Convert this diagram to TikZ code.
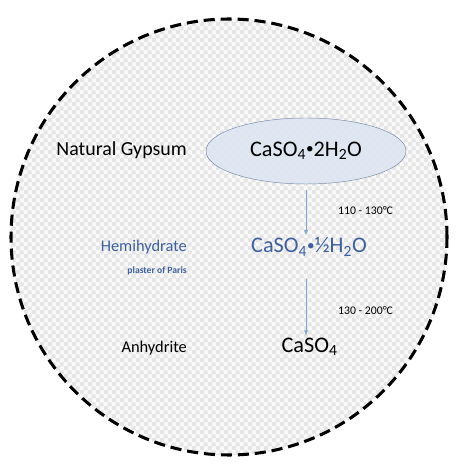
\documentclass[tikz,border=0pt]{standalone}
\usepackage{fontspec}
\setmainfont{Carlito}
\usetikzlibrary{shapes.geometric, patterns, positioning}

\definecolor{hemiblue}{RGB}{62,96,160}
\definecolor{arrowblue}{RGB}{125,165,205}
\definecolor{ellfill}{RGB}{220,229,241}
\definecolor{elldraw}{RGB}{120,140,168}

\pgfdeclarepatternformonly{fineboard}{\pgfpointorigin}{\pgfqpoint{7pt}{7pt}}{\pgfqpoint{7pt}{7pt}}{
  \pgfpathrectangle{\pgfpointorigin}{\pgfqpoint{3.55pt}{3.55pt}}
  \pgfpathrectangle{\pgfqpoint{3.5pt}{3.5pt}}{\pgfqpoint{3.55pt}{3.55pt}}
  \pgfusepath{fill}}

\newcommand{\hydot}{\raisebox{0.12em}{\fontsize{13}{13}\selectfont•}}

\begin{document}
\begin{tikzpicture}[x=0.03cm, y=0.03cm,
        every edge/.style={->,draw=arrowblue,>=latex,line width=0.6pt},
        formula/.style={font=\fontsize{19}{22}\selectfont, inner sep=2pt},
        caption/.style={anchor=east, inner sep=0pt},
        temp/.style={anchor=west, inner sep=0pt, font=\fontsize{10}{12}\selectfont},
        boundary/.style={line width=2.6pt, dash pattern=on 9.5pt off 5pt},]

        \useasboundingbox (0,0) rectangle (474,474);

        % background disc
        \fill[gray!5] (229,237) circle (218);
        \fill[pattern=fineboard, pattern color=gray!20] (229,237) circle (218);
        \draw[boundary] (229,237) circle (218);

        % formulas
        \node[ellipse, draw=elldraw, fill=ellfill, fill opacity=0.85, text opacity=1,
              minimum width=6cm, minimum height=1.98cm, formula] (gyps) at (306,323)
              {CaSO\textsubscript{4}\hydot 2H\textsubscript{2}O};
        \node[formula, text=hemiblue] (hemi) at (309,227)
              {CaSO\textsubscript{4}\hydot ½H\textsubscript{2}O};
        \node[formula] (anhyd) at (309.5,127) {CaSO\textsubscript{4}};

        % captions on the left
        \node[caption, font=\fontsize{17}{20}\selectfont] (nat_lbl) at (187,324) {Natural Gypsum};
        \node[caption, font=\fontsize{14}{17}\selectfont, text=hemiblue] (hemi_lbl) at (187,227) {Hemihydrate};
        \node[caption, font=\fontsize{8.2}{10}\selectfont\bfseries, text=hemiblue] (paris_lbl) at (187,203) {plaster of Paris};
        \node[caption, font=\fontsize{14}{17}\selectfont] (anhyd_lbl) at (187,126) {Anhydrite};

        % temperatures
        \node[temp] (t_1) at (338,263) {110 - 130°C};
        \node[temp] (t_2) at (338,163) {130 - 200°C};

        \path (gyps.south) edge [shorten <=5pt] (gyps.south |- hemi.north);
        \path (gyps.south |- hemi.south) edge [shorten <=17pt] (gyps.south |- anhyd.north);

    \end{tikzpicture}
\end{document}
